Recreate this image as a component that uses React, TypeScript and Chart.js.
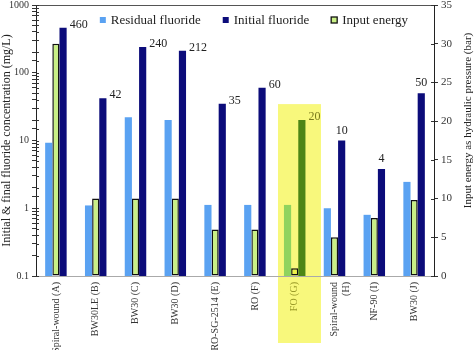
import React, { useEffect, useRef } from 'react';
import { Chart, registerables } from 'chart.js';

Chart.register(...registerables);

const categories: (string | string[])[] = [
  'Spiral-wound (A)',
  'BW30LE (B)',
  'BW30 (C)',
  'BW30 (D)',
  'RO-SG-2514 (E)',
  'RO (F)',
  'FO (G)',
  ['Spiral-wound', '(H)'],
  'NF-90 (I)',
  'BW30 (J)',
];
const residualFluoride = [9.3, 1.1, 22, 20, 1.12, 1.12, 1.12, 1.0, 0.8, 2.45];
const initialFluoride = [460, 42, 240, 212, 35, 60, 20, 10, 3.8, 50];
const inputEnergy = [30, 10, 10, 10, 6, 6, 1, 5, 7.5, 9.8];
const initialLabels = ['460', '42', '240', '212', '35', '60', '20', '10', '4', '50'];
const labelPlacement = ['right', 'right', 'right', 'right', 'right', 'right', 'right', 'top', 'top', 'top'];
const leftTickLabels = [0.1, 1, 10, 100, 1000];
const highlightIndex = 6;
const legendOrder = [0, 1, 2];

const FONT = "'Liberation Serif', 'Times New Roman', serif";

const highlightPlugin = {
  id: 'highlightBox',
  beforeDraw(chart: any) {
    const x = chart.scales.x;
    const y = chart.scales.y;
    const ctx = chart.ctx;
    const cw = x.width / categories.length;
    const cx = x.getPixelForValue(highlightIndex);
    const left = cx - 0.42 * cw;
    const right = cx + 0.66 * cw;
    const top = y.getPixelForValue(initialFluoride[highlightIndex]) - 16;
    const bottom = chart.height - 7;
    ctx.save();
    ctx.fillStyle = '#f8f87c';
    ctx.fillRect(left, top, right - left, bottom - top);
    ctx.restore();
  },
};

const labelsPlugin = {
  id: 'barLabels',
  afterDatasetsDraw(chart: any) {
    const ctx = chart.ctx;
    const meta = chart.getDatasetMeta(1);
    ctx.save();
    ctx.font = `12px ${FONT}`;
    meta.data.forEach((bar: any, i: number) => {
      const p = bar.getProps(['x', 'y', 'width'], true);
      ctx.fillStyle = i === highlightIndex ? '#7a7a1c' : '#222';
      ctx.textBaseline = 'middle';
      if (labelPlacement[i] === 'right') {
        ctx.textAlign = 'left';
        ctx.fillText(initialLabels[i], p.x + p.width / 2 + 3, p.y - 3);
      } else {
        ctx.textAlign = 'center';
        ctx.fillText(initialLabels[i], p.x, p.y - 10);
      }
    });
    ctx.restore();
  },
};

const legendPlugin = {
  id: 'insideLegend',
  afterDraw(chart: any) {
    const ctx = chart.ctx;
    const a = chart.chartArea;
    const ds = chart.data.datasets;
    ctx.save();
    ctx.font = `13px ${FONT}`;
    const box = 6;
    const textGap = 5;
    const itemGap = 22;
    const widths = legendOrder.map((i) => box + textGap + ctx.measureText(ds[i].label).width);
    const total = widths.reduce((s, w) => s + w, 0) + itemGap * (widths.length - 1);
    let x = a.right - 26 - total;
    const yc = a.top + 15;
    legendOrder.forEach((i, k) => {
      const d = ds[i];
      const fill = typeof d.backgroundColor === 'function' ? d.backgroundColor({ dataIndex: -1 }) : d.backgroundColor;
      ctx.fillStyle = fill;
      ctx.fillRect(x, yc - box / 2, box, box);
      if (d.borderWidth) {
        ctx.strokeStyle = d.borderColor;
        ctx.lineWidth = 1.3;
        ctx.strokeRect(x, yc - box / 2, box, box);
      }
      ctx.fillStyle = '#222';
      ctx.textAlign = 'left';
      ctx.textBaseline = 'middle';
      ctx.fillText(d.label, x + box + textGap, yc + 1);
      x += widths[k] + itemGap;
    });
    ctx.restore();
  },
};

const framePlugin = {
  id: 'frame',
  afterDraw(chart: any) {
    const ctx = chart.ctx;
    const a = chart.chartArea;
    const y = chart.scales.y;
    const y1 = chart.scales.y1;
    ctx.save();
    ctx.strokeStyle = '#555';
    ctx.lineWidth = 1;
    ctx.beginPath();
    ctx.moveTo(a.left, a.top + 0.5);
    ctx.lineTo(a.right, a.top + 0.5);
    ctx.stroke();
    // inner halves of the tick marks (ticks cross the axes)
    ctx.strokeStyle = '#333';
    ctx.beginPath();
    y.ticks.forEach((t: any) => {
      const py = Math.round(y.getPixelForValue(t.value)) + 0.5;
      ctx.moveTo(a.left, py);
      ctx.lineTo(a.left + 3, py);
    });
    y1.ticks.forEach((t: any) => {
      const py = Math.round(y1.getPixelForValue(t.value)) + 0.5;
      ctx.moveTo(a.right - 3, py);
      ctx.lineTo(a.right, py);
    });
    ctx.stroke();
    ctx.translate(y1.right - 6, (a.top + a.bottom) / 2 - 20);
    ctx.rotate(-Math.PI / 2);
    ctx.textAlign = 'center';
    ctx.textBaseline = 'middle';
    ctx.fillStyle = '#222';
    ctx.font = `11px ${FONT}`;
    ctx.fillText('Input energy as hydraulic pressure (bar)', 0, 0);
    ctx.restore();
  },
};

const fixVertical = (w: number) => (s: any) => {
  s.width = w;
  s.paddingTop = 0;
  s.paddingBottom = 0;
};

export default function App() {
  const ref = useRef<HTMLCanvasElement>(null);

  useEffect(() => {
    if (!ref.current) return;
    Chart.defaults.font.family = FONT;
    const chart = new Chart(ref.current, {
      type: 'bar',
      data: {
        labels: categories,
        datasets: [
          {
            label: 'Residual fluoride',
            data: residualFluoride,
            yAxisID: 'y',
            order: 0,
            backgroundColor: (c: any) => (c.dataIndex === highlightIndex ? '#8fd35e' : '#5aa2f2'),
            borderWidth: 0,
            categoryPercentage: 0.54,
            barPercentage: 1,
          },
          {
            label: 'Initial fluoride',
            data: initialFluoride,
            yAxisID: 'y',
            order: 2,
            backgroundColor: (c: any) => (c.dataIndex === highlightIndex ? '#4d8616' : '#0c0c7a'),
            borderWidth: 0,
            categoryPercentage: 0.54,
            barPercentage: 1,
          },
          {
            label: 'Input energy',
            data: inputEnergy,
            yAxisID: 'y1',
            order: 1,
            backgroundColor: (c: any) => (c.dataIndex === highlightIndex ? '#eef04a' : '#c9f086'),
            borderColor: '#111',
            borderWidth: 1.5,
            borderSkipped: false,
            categoryPercentage: 0.54,
            barPercentage: 1,
          },
        ] as any,
      },
      options: {
        responsive: false,
        animation: false,
        layout: { padding: { top: 5 } },
        plugins: {
          legend: { display: false },
          tooltip: { enabled: false },
        },
        scales: {
          x: {
            type: 'category',
            offset: true,
            grid: { drawOnChartArea: false, drawTicks: false },
            border: { display: true, color: '#aaa' },
            ticks: {
              autoSkip: false,
              maxRotation: 90,
              minRotation: 90,
              padding: 6,
              font: { size: 10, family: FONT },
              color: (c: any) => (c.index === highlightIndex ? '#9a9a28' : '#333'),
            },
            afterFit: (s: any) => {
              s.height = 74;
              s.paddingLeft = 0;
              s.paddingRight = 0;
            },
          },
          y: {
            type: 'logarithmic',
            position: 'left',
            min: 0.1,
            max: 1000,
            grid: { drawOnChartArea: false, drawTicks: true, tickLength: 4, color: '#333' },
            border: { color: '#222' },
            ticks: {
              autoSkip: false,
              padding: 3,
              color: '#333',
              font: { size: 10, family: FONT },
              callback: (v: any) => {
                const n = Number(v);
                const hit = leftTickLabels.find((t) => Math.abs(Math.log10(t) - Math.log10(n)) < 1e-6);
                return hit !== undefined ? String(hit) : '';
              },
            },
            title: {
              display: true,
              text: 'Initial & final fluoride concentration (mg/L)',
              color: '#222',
              font: { size: 12, family: FONT },
              padding: 0,
            },
            afterFit: fixVertical(36),
          },
          y1: {
            type: 'linear',
            position: 'right',
            min: 0,
            max: 35,
            grid: { drawOnChartArea: false, drawTicks: true, tickLength: 4, color: '#333' },
            border: { color: '#222' },
            ticks: {
              stepSize: 5,
              padding: 3,
              color: '#333',
              font: { size: 11, family: FONT },
            },
            afterFit: fixVertical(40),
          },
        },
      } as any,
      plugins: [highlightPlugin, labelsPlugin, legendPlugin, framePlugin],
    });
    return () => chart.destroy();
  }, []);

  return (
    <div style={{ position: 'fixed', left: 0, top: 0, width: 474, height: 350, background: '#fff' }}>
      <canvas ref={ref} width={474} height={350} style={{ display: 'block' }} />
    </div>
  );
}
